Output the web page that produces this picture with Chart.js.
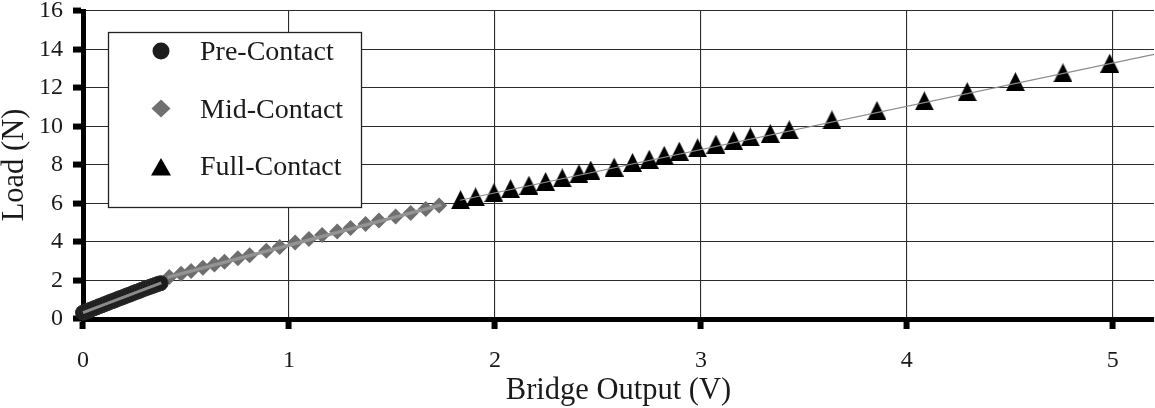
<!DOCTYPE html>
<html><head><meta charset="utf-8">
<script src="https://cdn.jsdelivr.net/npm/chart.js@4.4.0/dist/chart.umd.min.js"></script>
<style>html,body{margin:0;padding:0;background:#fff;}#wrap{width:1155px;height:408px;position:relative;}</style>
</head><body><div id="wrap"><canvas id="c" width="1155" height="408"></canvas></div>
<script>
// ---- data ----
const seriesNames = ['Pre-Contact', 'Mid-Contact', 'Full-Contact'];
const xTitle = 'Bridge Output (V)';
const yTitle = 'Load (N)';
const xTickValues = [0, 1, 2, 3, 4, 5];
const yTickValues = [0, 2, 4, 6, 8, 10, 12, 14, 16];

const preX = [0.000,0.013,0.026,0.039,0.052,0.065,0.078,0.091,0.104,0.117,0.130,0.143,0.156,0.169,0.182,0.195,0.208,0.221,0.234,0.247,0.260,0.273,0.286,0.299,0.312,0.325,0.338,0.351,0.364,0.377];
const preY = [0.33,0.38,0.44,0.49,0.55,0.60,0.66,0.71,0.77,0.82,0.88,0.93,0.98,1.04,1.09,1.14,1.20,1.25,1.30,1.36,1.41,1.46,1.52,1.57,1.62,1.67,1.72,1.77,1.82,1.86];

const midX = [0.419,0.476,0.525,0.582,0.638,0.687,0.752,0.809,0.890,0.955,1.030,1.097,1.161,1.234,1.299,1.372,1.437,1.518,1.591,1.664,1.729];
const midY = [2.18,2.35,2.50,2.66,2.83,2.98,3.16,3.31,3.55,3.74,3.97,4.16,4.36,4.55,4.73,4.94,5.12,5.32,5.51,5.72,5.89];

const fullX = [1.833,1.906,1.995,2.076,2.165,2.246,2.327,2.408,2.465,2.579,2.668,2.749,2.822,2.895,2.984,3.073,3.159,3.240,3.337,3.429,3.636,3.855,4.085,4.293,4.527,4.758,4.985];
const fullY = [6.20,6.34,6.56,6.77,6.95,7.14,7.33,7.55,7.74,7.89,8.13,8.30,8.50,8.72,8.89,9.08,9.27,9.46,9.64,9.83,10.34,10.83,11.33,11.81,12.33,12.79,13.29];

// trend lines (endpoints)
const preFitX = [0.0, 0.38];  const preFitY = [0.33, 1.88];
const midFitX = [0.41, 1.74]; const midFitY = [2.16, 5.93];
const fullFitX = [1.83, 5.2]; const fullFitY = [6.17, 13.75];

// ---- build ----
const pts = (xs, ys) => xs.map((x, i) => ({x: x, y: ys[i]}));

function triangleImage(w, h, color) {
  const cv = document.createElement('canvas');
  cv.width = w; cv.height = h;
  const g = cv.getContext('2d');
  g.fillStyle = color;
  g.beginPath();
  g.moveTo(w / 2, 0);
  g.lineTo(w, h);
  g.lineTo(0, h);
  g.closePath();
  g.fill();
  return cv;
}
const triImg = triangleImage(19, 19, '#000');

const FONT = "'Liberation Serif', 'Times New Roman', serif";
Chart.defaults.font.family = FONT;
Chart.defaults.color = '#1a1a1a';

const legendPlugin = {
  id: 'boxLegend',
  afterDraw(chart) {
    const ctx = chart.ctx;
    ctx.save();
    ctx.fillStyle = '#fff';
    ctx.fillRect(108, 32, 254, 176);
    ctx.strokeStyle = '#222';
    ctx.lineWidth = 1.3;
    ctx.strokeRect(108.5, 32.5, 253, 175);
    // markers
    ctx.fillStyle = '#1c1c1c';
    ctx.beginPath(); ctx.arc(161, 51, 8.5, 0, Math.PI * 2); ctx.fill();
    ctx.fillStyle = '#707070';
    ctx.beginPath();
    ctx.moveTo(161, 99.5); ctx.lineTo(170.5, 108.5); ctx.lineTo(161, 117.5); ctx.lineTo(151.5, 108.5);
    ctx.closePath(); ctx.fill();
    ctx.fillStyle = '#000';
    ctx.beginPath();
    ctx.moveTo(161, 158); ctx.lineTo(171, 175.5); ctx.lineTo(151, 175.5);
    ctx.closePath(); ctx.fill();
    // text
    ctx.fillStyle = '#1a1a1a';
    ctx.font = '28px ' + FONT;
    ctx.textBaseline = 'alphabetic';
    ctx.textAlign = 'left';
    ctx.fillText(seriesNames[0], 200, 60);
    ctx.fillText(seriesNames[1], 200, 117.5);
    ctx.fillText(seriesNames[2], 200, 175);
    ctx.restore();
  }
};

new Chart(document.getElementById('c'), {
  type: 'scatter',
  data: {
    datasets: [
      {label: 'Pre fit', type: 'line', data: pts(preFitX, preFitY), borderColor: '#8a8a8a', borderWidth: 3, pointRadius: 0, fill: false, order: 0, clip: false},
      {label: 'Mid fit', type: 'line', data: pts(midFitX, midFitY), borderColor: '#939393', borderWidth: 3.5, pointRadius: 0, fill: false, order: 0, clip: false},
      {label: 'Full fit', type: 'line', data: pts(fullFitX, fullFitY), borderColor: '#8c8c8c', borderWidth: 1.2, pointRadius: 0, fill: false, order: 0, clip: false},
      {label: seriesNames[0], data: pts(preX, preY), pointStyle: 'circle', pointRadius: 7.5, backgroundColor: '#1c1c1c', borderColor: '#2a2a2a', borderWidth: 1, order: 1, clip: false},
      {label: seriesNames[1], data: pts(midX, midY), pointStyle: 'rectRot', pointRadius: 8, backgroundColor: '#6e6e6e', borderWidth: 0, order: 1, clip: false},
      {label: seriesNames[2], data: pts(fullX, fullY), pointStyle: triImg, pointRadius: 9, backgroundColor: '#000', borderWidth: 0, order: 1, clip: false}
    ]
  },
  options: {
    responsive: false,
    animation: false,
    devicePixelRatio: 1,
    layout: {autoPadding: false, padding: {top: 11, right: 1, left: 0, bottom: 0}},
    plugins: {legend: {display: false}, tooltip: {enabled: false}},
    scales: {
      x: {
        type: 'linear', min: 0, max: 5.2,
        afterBuildTicks(s) { s.ticks = xTickValues.map(v => ({value: v})); },
        afterFit(s) { s.height = 89; s.paddingLeft = 0; s.paddingRight = 0; },
        ticks: {font: {size: 24}, padding: 17, color: '#1a1a1a', maxRotation: 0, callback: v => String(v)},
        grid: {color: '#2b2b2b', lineWidth: 1.1, tickLength: 10, tickWidth: 6, tickColor: '#000', drawTicks: true},
        border: {display: true, color: '#000', width: 5},
        title: {display: true, text: xTitle, font: {size: 30.5}, color: '#1a1a1a', padding: {top: 0, bottom: -1}}
      },
      y: {
        type: 'linear', min: 0, max: 16,
        afterBuildTicks(s) { s.ticks = yTickValues.map(v => ({value: v})); },
        afterFit(s) { s.width = 83; s.paddingTop = 0; s.paddingBottom = 0; },
        ticks: {font: {size: 24}, padding: 10, color: '#1a1a1a', callback: v => String(v)},
        grid: {color: '#2b2b2b', lineWidth: 1.1, tickLength: 10, tickWidth: 6, tickColor: '#000', drawTicks: true},
        border: {display: true, color: '#000', width: 5},
        title: {display: true, text: yTitle, font: {size: 30.5}, color: '#1a1a1a', padding: {top: -3, bottom: 0}}
      }
    }
  },
  plugins: [legendPlugin]
});
</script>
</body></html>
